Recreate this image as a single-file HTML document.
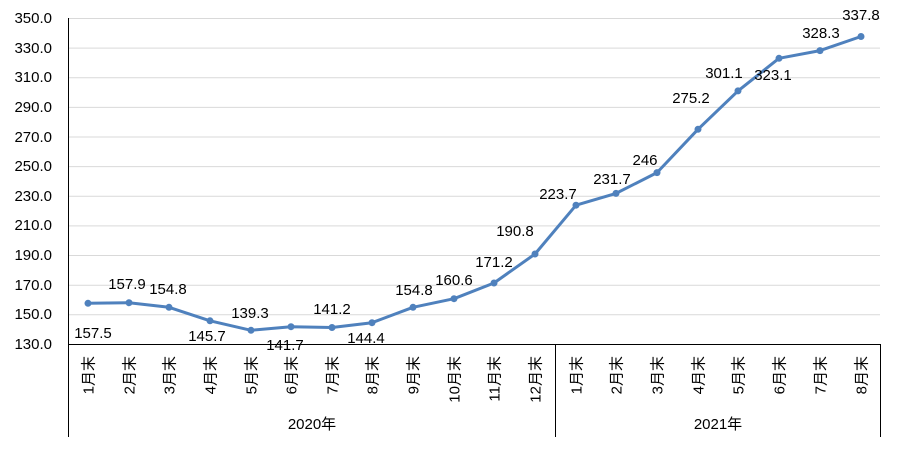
<!DOCTYPE html>
<html><head><meta charset="utf-8"><style>
body{margin:0;background:#fff}
svg{display:block;font-family:"Liberation Sans","Noto Sans CJK SC",sans-serif}
</style></head><body>
<svg width="900" height="449" viewBox="0 0 900 449" xmlns="http://www.w3.org/2000/svg">
<g stroke="#d9d9d9" stroke-width="1">
<line x1="68" x2="880" y1="18.5" y2="18.5"/>
<line x1="68" x2="880" y1="48.1" y2="48.1"/>
<line x1="68" x2="880" y1="77.8" y2="77.8"/>
<line x1="68" x2="880" y1="107.4" y2="107.4"/>
<line x1="68" x2="880" y1="137.0" y2="137.0"/>
<line x1="68" x2="880" y1="166.6" y2="166.6"/>
<line x1="68" x2="880" y1="196.3" y2="196.3"/>
<line x1="68" x2="880" y1="225.9" y2="225.9"/>
<line x1="68" x2="880" y1="255.5" y2="255.5"/>
<line x1="68" x2="880" y1="285.2" y2="285.2"/>
<line x1="68" x2="880" y1="314.8" y2="314.8"/>
</g>
<g stroke="#000" stroke-width="1">
<line x1="68.5" x2="68.5" y1="18" y2="437"/>
<line x1="68" x2="880" y1="344.5" y2="344.5"/>
<line x1="555.5" x2="555.5" y1="344" y2="437"/>
<line x1="880.5" x2="880.5" y1="344" y2="437"/>
</g>
<g font-size="15" fill="#000" text-anchor="end">
<text x="52" y="23">350.0</text><text x="52" y="53">330.0</text><text x="52" y="82">310.0</text>
<text x="52" y="112">290.0</text><text x="52" y="142">270.0</text><text x="52" y="171">250.0</text>
<text x="52" y="201">230.0</text><text x="52" y="230">210.0</text><text x="52" y="260">190.0</text>
<text x="52" y="290">170.0</text><text x="52" y="319">150.0</text><text x="52" y="349">130.0</text>
</g>
<polyline fill="none" stroke="#4f81bd" stroke-width="3" stroke-linejoin="round" points="88,303.3 129,302.7 169,307.3 210,320.8 251,330.3 291,326.7 332,327.5 372,322.7 413,307.3 454,298.7 494,283.0 535,254.0 576,205.2 616,193.4 657,172.6 698,129.3 738,90.9 779,58.3 820,50.6 861,36.5"/>
<g fill="#4f81bd">
<circle cx="88" cy="303.3" r="3.5"/><circle cx="129" cy="302.7" r="3.5"/><circle cx="169" cy="307.3" r="3.5"/><circle cx="210" cy="320.8" r="3.5"/><circle cx="251" cy="330.3" r="3.5"/><circle cx="291" cy="326.7" r="3.5"/><circle cx="332" cy="327.5" r="3.5"/><circle cx="372" cy="322.7" r="3.5"/><circle cx="413" cy="307.3" r="3.5"/><circle cx="454" cy="298.7" r="3.5"/><circle cx="494" cy="283.0" r="3.5"/><circle cx="535" cy="254.0" r="3.5"/><circle cx="576" cy="205.2" r="3.5"/><circle cx="616" cy="193.4" r="3.5"/><circle cx="657" cy="172.6" r="3.5"/><circle cx="698" cy="129.3" r="3.5"/><circle cx="738" cy="90.9" r="3.5"/><circle cx="779" cy="58.3" r="3.5"/><circle cx="820" cy="50.6" r="3.5"/><circle cx="861" cy="36.5" r="3.5"/>
</g>
<g font-size="15" fill="#000" text-anchor="middle">
<text x="93" y="338">157.5</text><text x="127" y="289">157.9</text><text x="168" y="294">154.8</text>
<text x="207" y="341">145.7</text><text x="250" y="318">139.3</text><text x="285" y="350">141.7</text>
<text x="332" y="314">141.2</text><text x="366" y="343">144.4</text><text x="414" y="295">154.8</text>
<text x="454" y="285">160.6</text><text x="494" y="267">171.2</text><text x="515" y="236">190.8</text>
<text x="558" y="199">223.7</text><text x="612" y="184">231.7</text><text x="645" y="165">246</text>
<text x="691" y="103">275.2</text><text x="724" y="78">301.1</text><text x="773" y="80">323.1</text>
<text x="821" y="38">328.3</text><text x="861" y="20">337.8</text>
</g>
<g font-size="15" fill="#000" text-anchor="end">
<text transform="translate(88,356) rotate(-90)" dy="0.35em">1月末</text>
<text transform="translate(129,356) rotate(-90)" dy="0.35em">2月末</text>
<text transform="translate(169,356) rotate(-90)" dy="0.35em">3月末</text>
<text transform="translate(210,356) rotate(-90)" dy="0.35em">4月末</text>
<text transform="translate(251,356) rotate(-90)" dy="0.35em">5月末</text>
<text transform="translate(291,356) rotate(-90)" dy="0.35em">6月末</text>
<text transform="translate(332,356) rotate(-90)" dy="0.35em">7月末</text>
<text transform="translate(372,356) rotate(-90)" dy="0.35em">8月末</text>
<text transform="translate(413,356) rotate(-90)" dy="0.35em">9月末</text>
<text transform="translate(454,356) rotate(-90)" dy="0.35em">10月末</text>
<text transform="translate(494,356) rotate(-90)" dy="0.35em">11月末</text>
<text transform="translate(535,356) rotate(-90)" dy="0.35em">12月末</text>
<text transform="translate(576,356) rotate(-90)" dy="0.35em">1月末</text>
<text transform="translate(616,356) rotate(-90)" dy="0.35em">2月末</text>
<text transform="translate(657,356) rotate(-90)" dy="0.35em">3月末</text>
<text transform="translate(698,356) rotate(-90)" dy="0.35em">4月末</text>
<text transform="translate(738,356) rotate(-90)" dy="0.35em">5月末</text>
<text transform="translate(779,356) rotate(-90)" dy="0.35em">6月末</text>
<text transform="translate(820,356) rotate(-90)" dy="0.35em">7月末</text>
<text transform="translate(861,356) rotate(-90)" dy="0.35em">8月末</text>
</g>
<g font-size="15" fill="#000" text-anchor="middle">
<text x="312" y="429">2020年</text>
<text x="718" y="429">2021年</text>
</g>
</svg>
</body></html>
